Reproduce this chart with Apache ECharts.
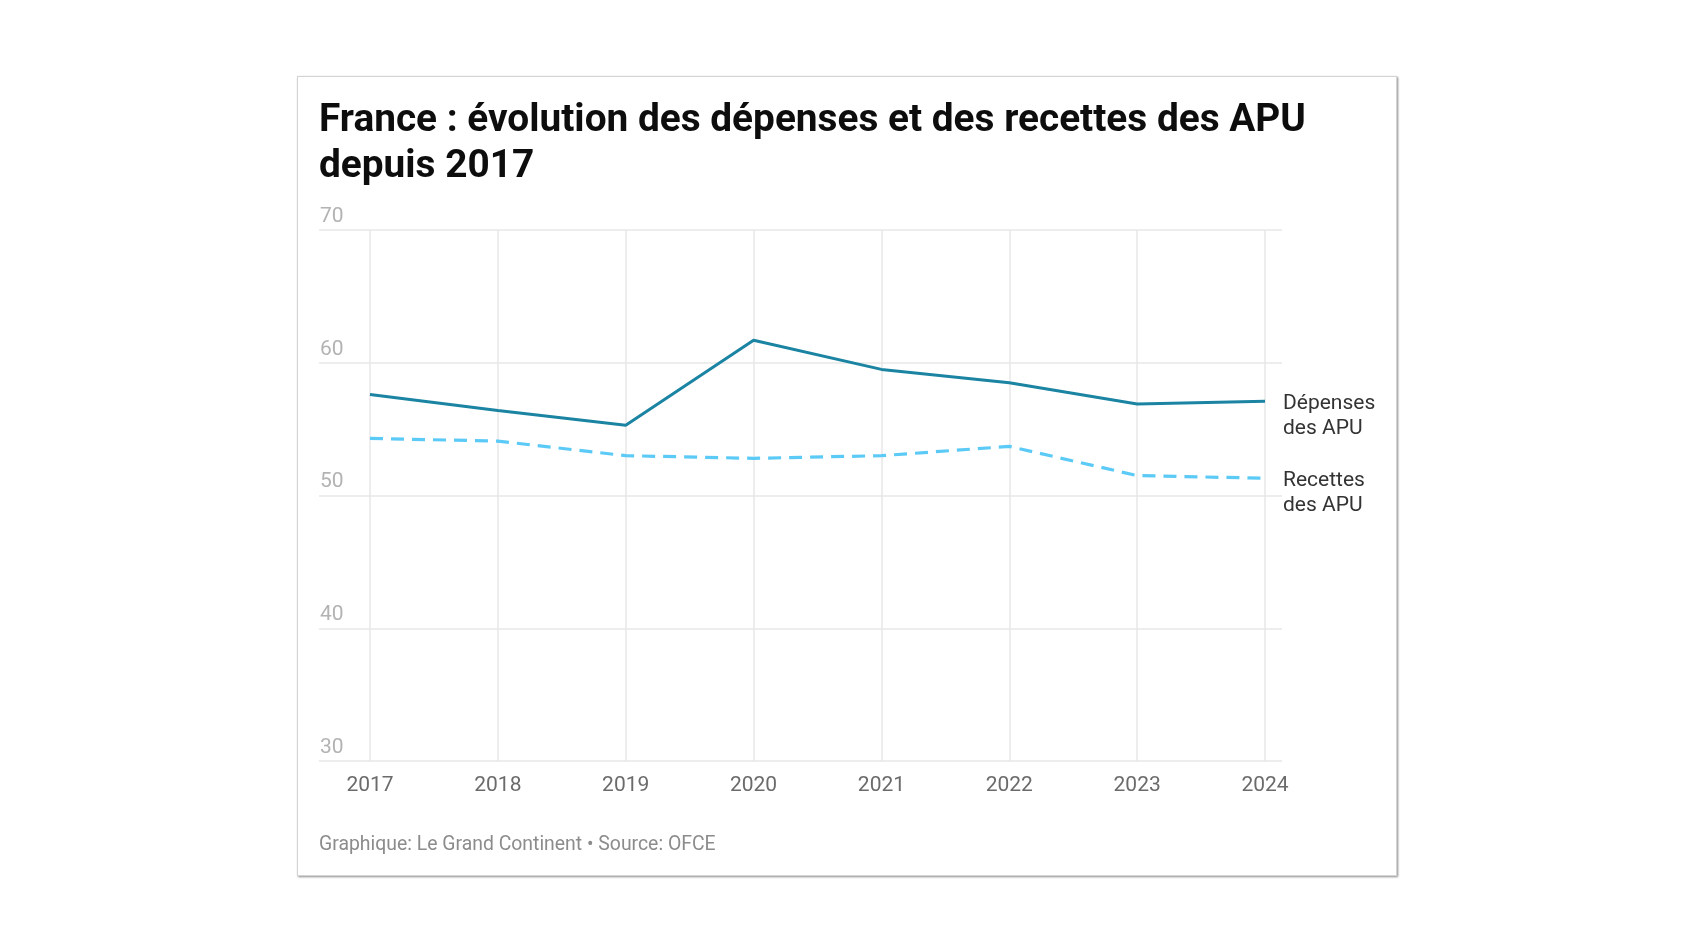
<!DOCTYPE html>
<html>
<head>
<meta charset="utf-8">
<script src="https://cdn.jsdelivr.net/npm/echarts@6/dist/echarts.min.js"></script>
<style>
    html, body { margin: 0; padding: 0; background: #fff; }
    #card {
        position: absolute; left: 297px; top: 76px; width: 1098px; height: 798px;
        background: #fff; border: 1px solid #d4d4d4;
        box-shadow: 1px 1px 2px rgba(0, 0, 0, 0.45);
    }
    #chart { position: absolute; left: 0; top: 0; width: 1696px; height: 952px; }
</style>
</head>
<body>
<div id="card"></div>
<div id="chart"></div>
<script>
// années
var years = ['2017', '2018', '2019', '2020', '2021', '2022', '2023', '2024'];
// en % du PIB
var depenses = [57.6, 56.4, 55.3, 61.7, 59.5, 58.5, 56.9, 57.1];
var recettes = [54.3, 54.1, 53.0, 52.8, 53.0, 53.7, 51.5, 51.3];
var yTicks = [30, 40, 50, 60, 70];

var gridColor = '#e7e7e7';
var fontFam = 'Roboto';

var myChart = echarts.init(document.getElementById('chart'), null, { renderer: 'canvas' });

var option = {
    animation: false,
    textStyle: { fontFamily: fontFam },
    title: [
        {
            text: 'France : évolution des dépenses et des recettes des APU\ndepuis 2017',
            left: 319,
            top: 98,
            padding: 0,
            textStyle: {
                fontFamily: fontFam,
                fontSize: 38.8,
                fontWeight: 'bold',
                color: '#0d0d0d',
                lineHeight: 46
            }
        },
        {
            text: 'Graphique: Le Grand Continent • Source: OFCE',
            left: 319,
            top: 836,
            padding: 0,
            textStyle: {
                fontFamily: fontFam,
                fontSize: 19.4,
                fontWeight: 'normal',
                color: '#8c8c8c'
            }
        }
    ],
    grid: [
        { left: 319, right: 1696 - 1282, top: 230, height: 531 },
        { left: 370, right: 1696 - 1265, top: 230, height: 531 }
    ],
    xAxis: [
        { gridIndex: 0, type: 'value', min: 0, max: 1, show: false },
        {
            gridIndex: 1,
            type: 'category',
            boundaryGap: false,
            data: years,
            axisLine: { show: false },
            axisTick: { show: false },
            splitLine: { show: true, lineStyle: { color: gridColor, width: 1.5 } },
            axisLabel: { fontSize: 21, color: '#6b6b6b', margin: 14, fontFamily: fontFam }
        }
    ],
    yAxis: [
        {
            gridIndex: 0,
            type: 'value',
            min: yTicks[0],
            max: yTicks[yTicks.length - 1],
            interval: 10,
            axisLine: { show: false },
            axisTick: { show: false },
            splitLine: { show: true, lineStyle: { color: gridColor, width: 1.5 } },
            axisLabel: {
                inside: true,
                margin: 1,
                verticalAlign: 'bottom',
                padding: [0, 0, 3, 0],
                fontSize: 21,
                color: '#b3b3b3',
                fontFamily: fontFam
            }
        },
        {
            gridIndex: 1,
            type: 'value',
            min: yTicks[0],
            max: yTicks[yTicks.length - 1],
            interval: 10,
            show: false
        }
    ],
    series: [
        {
            name: 'Dépenses\ndes APU',
            type: 'line',
            xAxisIndex: 1,
            yAxisIndex: 1,
            data: depenses,
            symbol: 'none',
            lineStyle: { color: '#1b84a2', width: 3 },
            endLabel: {
                show: true,
                formatter: '{a}',
                distance: 18,
                fontSize: 21,
                lineHeight: 25,
                color: '#333',
                verticalAlign: 'top',
                offset: [0, -10],
                fontFamily: fontFam
            }
        },
        {
            name: 'Recettes\ndes APU',
            type: 'line',
            xAxisIndex: 1,
            yAxisIndex: 1,
            data: recettes,
            symbol: 'none',
            lineStyle: { color: '#5ccaf6', width: 3.2, type: [13, 8] },
            endLabel: {
                show: true,
                formatter: '{a}',
                distance: 18,
                fontSize: 21,
                lineHeight: 25,
                color: '#333',
                verticalAlign: 'top',
                offset: [0, -10],
                fontFamily: fontFam
            }
        }
    ]
};

myChart.setOption(option);
</script>
</body>
</html>
